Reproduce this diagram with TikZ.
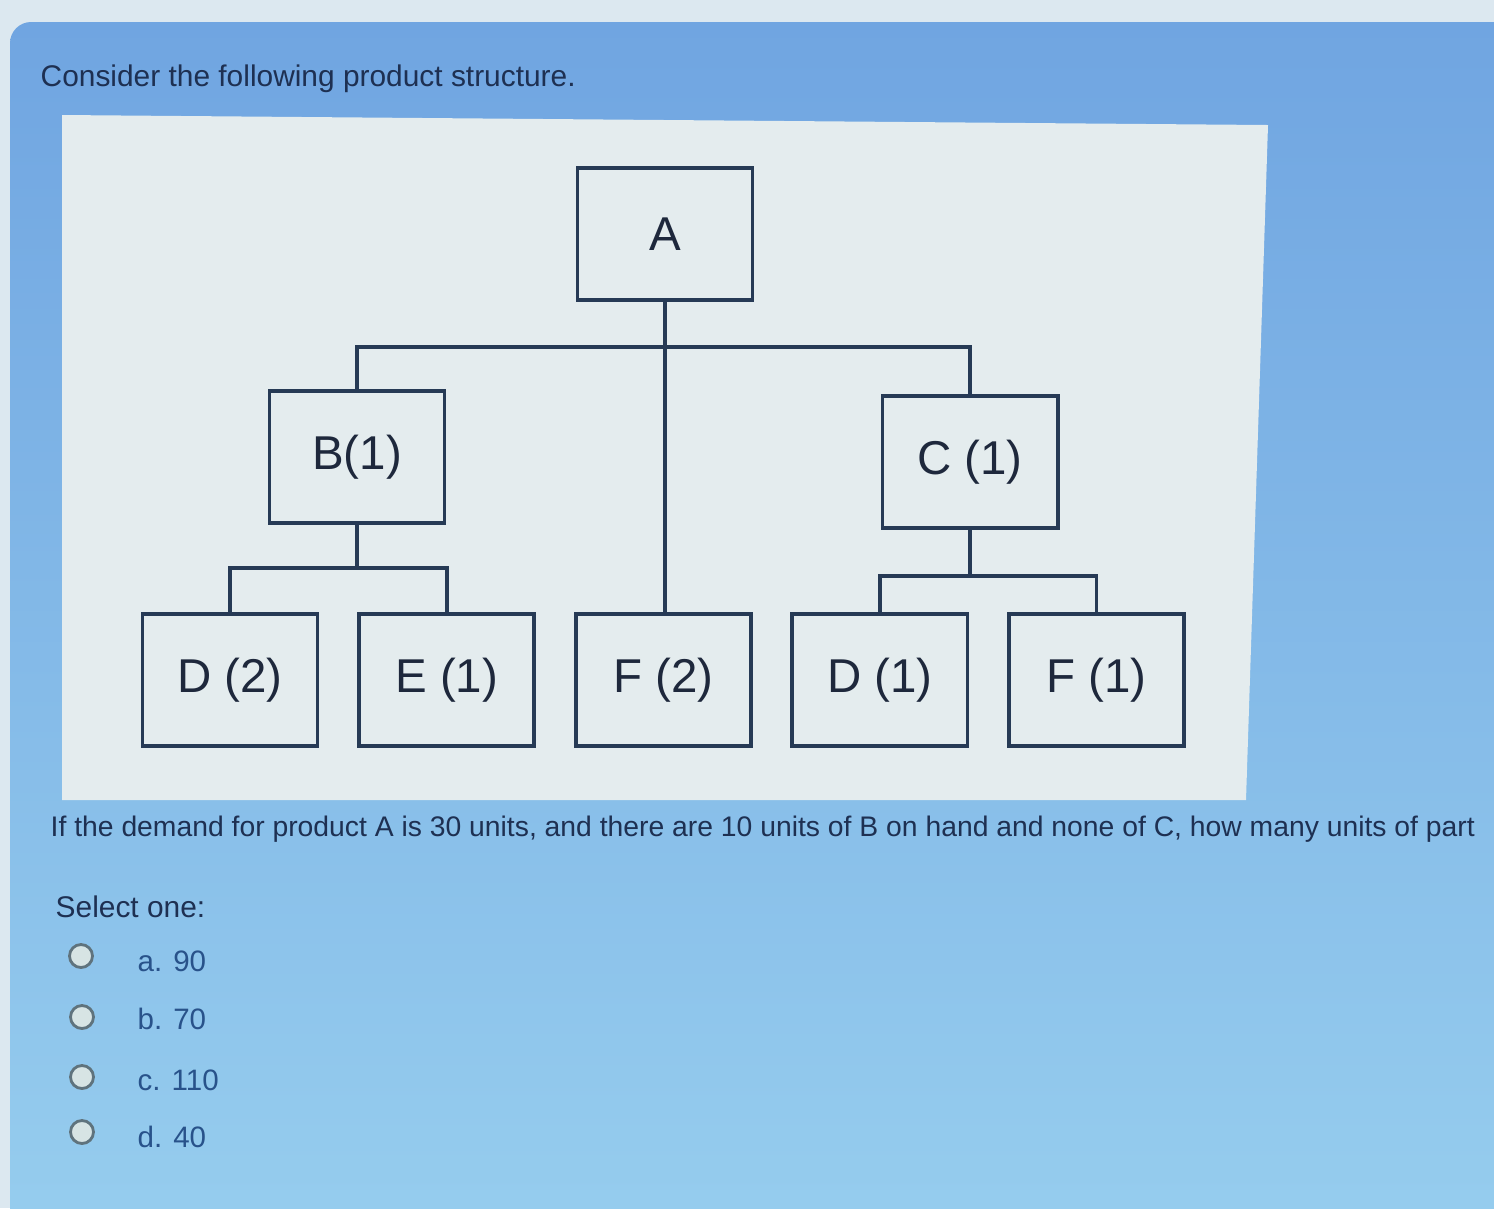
\documentclass[tikz,border=0pt]{standalone}
\usepackage{fontspec}
\setmainfont{Liberation Sans}
\usepackage{tikz}
\usetikzlibrary{positioning}

\definecolor{strip}{RGB}{220,232,240}
\definecolor{bgtop}{RGB}{112,165,225}
\definecolor{bgbot}{RGB}{150,205,238}
\definecolor{panel}{RGB}{228,236,238}
\definecolor{ink}{RGB}{30,48,82}
\definecolor{boxline}{RGB}{38,58,85}
\definecolor{boxtext}{RGB}{30,40,60}
\definecolor{choiceink}{RGB}{40,82,138}
\definecolor{radioline}{RGB}{95,115,125}
\definecolor{radiofill}{RGB}{215,228,228}

\begin{document}
\begin{tikzpicture}[x=0.01cm, y=-0.01cm, node distance=2.165cm,
    partbox/.style={rectangle, draw=boxline, line width=1.1pt, minimum width=1.75cm,
                    minimum height=1.32cm, text centered, text=boxtext,
                    font=\fontsize{13.5}{16}\selectfont},
    link/.style={draw=boxline, line width=1.1pt},
    pagetext/.style={anchor=base west, inner sep=0pt, text=ink,
                     font=\fontsize{8.5}{10}\selectfont},
    choice/.style={anchor=base west, inner sep=0pt, text=choiceink,
                   font=\fontsize{8.4}{10}\selectfont},
    radio/.style={circle, draw=radioline, fill=radiofill, line width=0.8pt,
                  minimum size=0.23cm, inner sep=0pt}]

    % Page
    \useasboundingbox (0,0) rectangle (1494,1208);
    \clip (0,0) rectangle (1494,1208);
    \fill[strip] (0,0) rectangle (1494,1208);
    \shade[top color=bgtop, bottom color=bgbot, rounded corners=6pt] (10,22) rectangle (1520,1230);
    \fill[panel] (62,115) -- (1268,125) -- (1246,800) -- (62,800) -- cycle;

    % Texts
    \node[pagetext] (title) at (40,86) {Consider the following product structure.};
    \node[pagetext, font=\fontsize{8.05}{10}\selectfont] (question) at (50,836) {If the demand for product A is 30 units, and there are 10 units of B on hand and none of C, how many units of part};
    \node[pagetext] (selectone) at (55,917) {Select one:};

    % Nodes
    \node[partbox] (prodA) at (665,234) {A};
    \node[partbox] (compB) at (357,457) {B(1)};
    \node[partbox] (compC) at (970,462) {C (1)};
    \node[partbox] (dunderb) at (230,680) {D (2)};
    \node[partbox, right of=dunderb] (eunderb) {E (1)};
    \node[partbox, right of=eunderb] (fundera) {F (2)};
    \node[partbox, right of=fundera] (dunderc) {D (1)};
    \node[partbox, right of=dunderc] (funderc) {F (1)};

    \coordinate (abar) at (665,347);
    \coordinate (bbar) at (357,568);
    \coordinate (cbar) at (970,576);

    % Lines
    \draw[link] (prodA.south) -- (prodA.south |- fundera.north);
    \draw[link] (compB.north) |- (abar) -| (compC.north);
    \draw[link] (compB.south) -- (bbar);
    \draw[link] (dunderb.north) |- (bbar) -| (eunderb.north);
    \draw[link] (compC.south) -- (cbar);
    \draw[link] (dunderc.north) |- (cbar) -| (funderc.north);

    % Choices
    \node[radio] (radioa) at (81,956) {};
    \node[radio] (radiob) at (82,1017) {};
    \node[radio] (radioc) at (82,1077) {};
    \node[radio] (radiod) at (82,1132) {};
    \node[choice] (answera) at (137,971) {a. 90};
    \node[choice] (answerb) at (137,1029) {b. 70};
    \node[choice] (answerc) at (137,1090) {c. 110};
    \node[choice] (answerd) at (137,1147) {d. 40};

\end{tikzpicture}
\end{document}
